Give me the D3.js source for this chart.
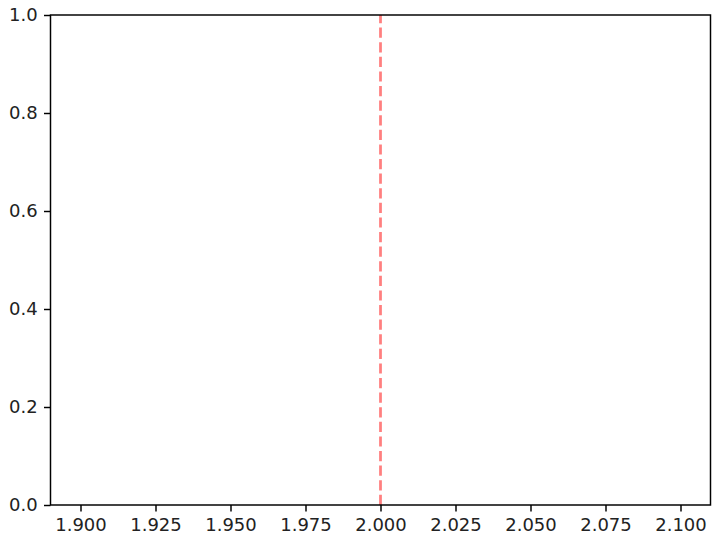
<!DOCTYPE html>
<html>
<head>
<meta charset="utf-8">
<script src="https://cdn.jsdelivr.net/npm/d3@7"></script>
<style>
  html, body { margin: 0; padding: 0; background: #fff; }
  svg { display: block; }
  text { font-family: "DejaVu Sans", sans-serif; }
</style>
</head>
<body>
<svg id="chart" width="715" height="541"></svg>
<script>
// Data
const xDomain = [1.89, 2.11];
const yDomain = [0, 1];
const xTicks = [1.900, 1.925, 1.950, 1.975, 2.000, 2.025, 2.050, 2.075, 2.100];
const yTicks = [0.0, 0.2, 0.4, 0.6, 0.8, 1.0];
const vlineX = [2.0];

const svg = d3.select("#chart");
const margin = { left: 50.5, right: 710.5, top: 15, bottom: 505 };

const x = d3.scaleLinear().domain(xDomain).range([margin.left, margin.right]);
const y = d3.scaleLinear().domain(yDomain).range([margin.bottom, margin.top]);

const fontSize = 18;
const tickLen = 6.5;
const pad = 6.4;

// Vertical dashed line
svg.selectAll("line.vline").data(vlineX).enter().append("line")
  .attr("class", "vline")
  .attr("x1", d => x(d)).attr("x2", d => x(d))
  .attr("y1", y(0)).attr("y2", y(1))
  .attr("stroke", "#ff0000").attr("stroke-opacity", 0.5)
  .attr("stroke-width", 2.76)
  .attr("stroke-dasharray", "10.2,4.4");

// X axis
const xAxis = d3.axisBottom(x).tickValues(xTicks).tickFormat(d3.format(".3f"))
  .tickSizeInner(tickLen).tickSizeOuter(0).tickPadding(pad);
const gx = svg.append("g").attr("transform", `translate(0,${margin.bottom})`).call(xAxis);
gx.select(".domain").remove();
gx.selectAll(".tick line").attr("stroke", "#000").attr("stroke-width", 1.47);
gx.selectAll(".tick text").attr("font-size", fontSize).attr("font-family", "DejaVu Sans").attr("fill", "#222");

// Y axis
const yAxis = d3.axisLeft(y).tickValues(yTicks).tickFormat(d3.format(".1f"))
  .tickSizeInner(tickLen).tickSizeOuter(0).tickPadding(pad);
const gy = svg.append("g").attr("transform", `translate(${margin.left},0)`).call(yAxis);
gy.select(".domain").remove();
gy.selectAll(".tick line").attr("stroke", "#000").attr("stroke-width", 1.47);
gy.selectAll(".tick text").attr("font-size", fontSize).attr("font-family", "DejaVu Sans").attr("fill", "#222");

// Frame (spines)
svg.append("rect")
  .attr("x", margin.left).attr("y", margin.top)
  .attr("width", margin.right - margin.left)
  .attr("height", margin.bottom - margin.top)
  .attr("fill", "none").attr("stroke", "#000").attr("stroke-width", 1.47);
</script>
</body>
</html>
